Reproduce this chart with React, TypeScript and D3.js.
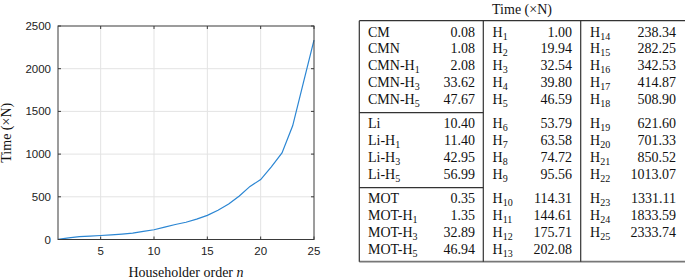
import React from "react";
import * as d3 from "d3";

const orders = d3.range(1, 26);
const hTimes = [1.0, 19.94, 32.54, 39.8, 46.59, 53.79, 63.58, 74.72, 95.56, 114.31, 144.61, 175.71, 202.08, 238.34, 282.25, 342.53, 414.87, 508.9, 621.6, 701.33, 850.52, 1013.07, 1331.11, 1833.59, 2333.74];
const xTicks = [5, 10, 15, 20, 25];
const yTicks = [0, 500, 1000, 1500, 2000, 2500];

const methodNames = ["CM", "CMN", "CMN-H", "CMN-H", "CMN-H", "Li", "Li-H", "Li-H", "Li-H", "MOT", "MOT-H", "MOT-H", "MOT-H"];
const methodSubs = ["", "", "1", "3", "5", "", "1", "3", "5", "", "1", "3", "5"];
const methodTimes = ["0.08", "1.08", "2.08", "33.62", "47.67", "10.40", "11.40", "42.95", "56.99", "0.35", "1.35", "32.89", "46.94"];
const groupSizes = [5, 4, 4];

const W = 685, H = 280;
const plot = { left: 58, right: 314, top: 26, bottom: 239.5 };
const serif = "'Liberation Serif', 'Times New Roman', serif";
const sans = "'Liberation Sans', Arial, sans-serif";

export default function App() {
  const x = d3.scaleLinear().domain([1, 25]).range([plot.left, plot.right]);
  const y = d3.scaleLinear().domain([0, 2500]).range([plot.bottom, plot.top]);
  const line = d3.line<number>().x((_, i) => x(orders[i])).y((d) => y(d));

  // table layout
  const tTop = 20.7, tBottom = 261.7;
  const row0 = 31.7, pitch = 16.75, gap = 8;
  const groupOf = (i: number) => {
    let acc = 0;
    for (let g = 0; g < groupSizes.length; g++) {
      acc += groupSizes[g];
      if (i < acc) return g;
    }
    return groupSizes.length - 1;
  };
  const rowY = (i: number) => row0 + i * pitch + groupOf(i) * gap;
  const base = (i: number) => rowY(i) + 4.8;
  const vlines = [359.3, 483.3, 580.7];
  const seps: number[] = [];
  let acc = 0;
  for (let g = 0; g < groupSizes.length - 1; g++) {
    acc += groupSizes[g];
    seps.push((rowY(acc - 1) + rowY(acc)) / 2 + 1.5);
  }
  const col2 = hTimes.slice(0, 13);
  const col3 = hTimes.slice(13);

  const label = (name: string, sub: string, xx: number, yy: number, key: string) => (
    <text key={key} x={xx} y={yy} fontFamily={serif} fontSize={14} fill="#111">
      {name}
      {sub && (
        <tspan fontSize={10} dy={3}>
          {sub}
        </tspan>
      )}
    </text>
  );

  return (
    <svg width={W} height={H} style={{ position: "absolute", left: 0, top: 0, background: "#fff" }}>
      {/* grid */}
      {xTicks.filter((t) => t < 25).map((t) => (
        <line key={"gx" + t} x1={x(t)} x2={x(t)} y1={plot.top} y2={plot.bottom} stroke="#e3e3e3" strokeWidth={1} />
      ))}
      {yTicks.filter((t) => t > 0 && t < 2500).map((t) => (
        <line key={"gy" + t} x1={plot.left} x2={plot.right} y1={y(t)} y2={y(t)} stroke="#e3e3e3" strokeWidth={1} />
      ))}
      {/* data line */}
      <path d={line(hTimes) || ""} fill="none" stroke="#2b86d3" strokeWidth={1.2} />
      {/* box */}
      <rect x={plot.left} y={plot.top} width={plot.right - plot.left} height={plot.bottom - plot.top} fill="none" stroke="#3a3a3a" strokeWidth={1} />
      {xTicks.map((t) => (
        <g key={"xt" + t}>
          <line x1={x(t)} x2={x(t)} y1={plot.bottom} y2={plot.bottom - 3} stroke="#3a3a3a" />
          <line x1={x(t)} x2={x(t)} y1={plot.top} y2={plot.top + 3} stroke="#3a3a3a" />
          <text x={x(t)} y={254.5} textAnchor="middle" fontFamily={sans} fontSize={11.5} fill="#222">
            {t}
          </text>
        </g>
      ))}
      {yTicks.map((t) => (
        <g key={"yt" + t}>
          <line x1={plot.left} x2={plot.left + 3} y1={y(t)} y2={y(t)} stroke="#3a3a3a" />
          <line x1={plot.right} x2={plot.right - 3} y1={y(t)} y2={y(t)} stroke="#3a3a3a" />
          <text x={51} y={y(t) + 4} textAnchor="end" fontFamily={sans} fontSize={11.5} fill="#222">
            {t}
          </text>
        </g>
      ))}
      <text x={(plot.left + plot.right) / 2} y={277} textAnchor="middle" fontFamily={serif} fontSize={14} fill="#111">
        Householder order <tspan fontStyle="italic">n</tspan>
      </text>
      <text transform={`translate(11,${(plot.top + plot.bottom) / 2}) rotate(-90)`} textAnchor="middle" fontFamily={serif} fontSize={14} fill="#111">
        Time (×N)
      </text>

      {/* table */}
      <text x={522} y={13.5} textAnchor="middle" fontFamily={serif} fontSize={14} fill="#111">
        Time (×N)
      </text>
      <line x1={vlines[0]} x2={W} y1={tTop} y2={tTop} stroke="#333" strokeWidth={1.2} />
      <line x1={vlines[0]} x2={W} y1={tBottom} y2={tBottom} stroke="#777" strokeWidth={1.8} />
      {vlines.map((v) => (
        <line key={"v" + v} x1={v} x2={v} y1={tTop} y2={tBottom} stroke="#333" strokeWidth={1.2} />
      ))}
      {seps.map((s, i) => (
        <line key={"s" + i} x1={vlines[0]} x2={vlines[1]} y1={s} y2={s} stroke="#333" strokeWidth={1.2} />
      ))}
      {methodNames.map((n, i) => (
        <g key={"m" + i}>
          {label(n, methodSubs[i], 368, base(i), "ml" + i)}
          <text x={475} y={base(i)} textAnchor="end" fontFamily={serif} fontSize={14} fill="#111">
            {methodTimes[i]}
          </text>
        </g>
      ))}
      {col2.map((v, i) => (
        <g key={"c2" + i}>
          {label("H", String(i + 1), 492.5, base(i), "c2l" + i)}
          <text x={572} y={base(i)} textAnchor="end" fontFamily={serif} fontSize={14} fill="#111">
            {v.toFixed(2)}
          </text>
        </g>
      ))}
      {col3.map((v, i) => (
        <g key={"c3" + i}>
          {label("H", String(i + 14), 590, base(i), "c3l" + i)}
          <text x={676} y={base(i)} textAnchor="end" fontFamily={serif} fontSize={14} fill="#111">
            {v.toFixed(2)}
          </text>
        </g>
      ))}
    </svg>
  );
}
